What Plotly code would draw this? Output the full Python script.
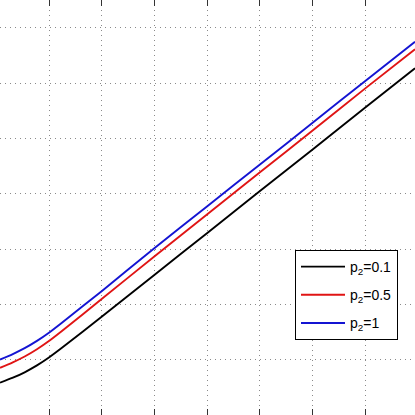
import plotly.graph_objects as go

# x positions (arbitrary units, grid every 5)
x_vals = [-4.68, -3.51, -2.34, -1.17, 0, 1.17, 5, 10, 15, 20, 25, 30, 34.72]
y_p01 = [0.584, 0.669, 0.772, 0.896, 1.043, 1.209, 1.778, 2.536, 3.291, 4.047, 4.800, 5.559, 6.266]
y_p05 = [0.853, 0.947, 1.057, 1.189, 1.341, 1.513, 2.100, 2.870, 3.628, 4.386, 5.142, 5.903, 6.609]
y_p1 = [1.003, 1.097, 1.207, 1.339, 1.491, 1.663, 2.243, 3.018, 3.774, 4.527, 5.281, 6.038, 6.747]
labels = ["p<sub>2</sub>=0.1", "p<sub>2</sub>=0.5", "p<sub>2</sub>=1"]
colors = ["#000000", "#e01414", "#1414d2"]

fig = go.Figure()
for i, (ys, lab, col) in enumerate(zip([y_p01, y_p05, y_p1], labels, colors)):
    fig.add_trace(go.Scatter(
        x=x_vals, y=ys, mode="lines", name=lab,
        line=dict(color=col, width=1.9, shape="spline", smoothing=0.5),
        legendgroup=f"g{i}",
    ))

grid_dash = "1px,4px"
fig.update_layout(
    width=415, height=415,
    margin=dict(l=0, r=0, t=0, b=0),
    paper_bgcolor="white", plot_bgcolor="white",
    font=dict(family="Liberation Sans, Arial, sans-serif", size=14, color="black"),
    showlegend=True,
    legend=dict(
        x=295 / 415, y=1 - 250 / 415, xanchor="left", yanchor="top",
        bgcolor="white", bordercolor="black", borderwidth=1,
        font=dict(size=14),
        itemwidth=44,
        traceorder="grouped", tracegroupgap=7,
    ),
    xaxis=dict(
        range=[-4.68, 34.72],
        tickvals=[0, 5, 10, 15, 20, 25, 30],
        showticklabels=False,
        ticks="inside", ticklen=6, tickcolor="#333333", tickwidth=1,
        showline=True, linecolor="rgba(0,0,0,0)", mirror="ticks",
        showgrid=True, gridcolor="#8a8a8a", gridwidth=1, griddash=grid_dash,
        zeroline=False,
    ),
    yaxis=dict(
        range=[0, 7.5],
        tickvals=[1, 2, 3, 4, 5, 6, 7],
        showticklabels=False, ticks="",
        showgrid=True, gridcolor="#8a8a8a", gridwidth=1, griddash=grid_dash,
        zeroline=False, showline=False,
    ),
)

fig.write_html(
    "out.html",
    config={"displayModeBar": False},
    post_script="document.body.style.margin='0';document.body.style.overflow='hidden';",
)
